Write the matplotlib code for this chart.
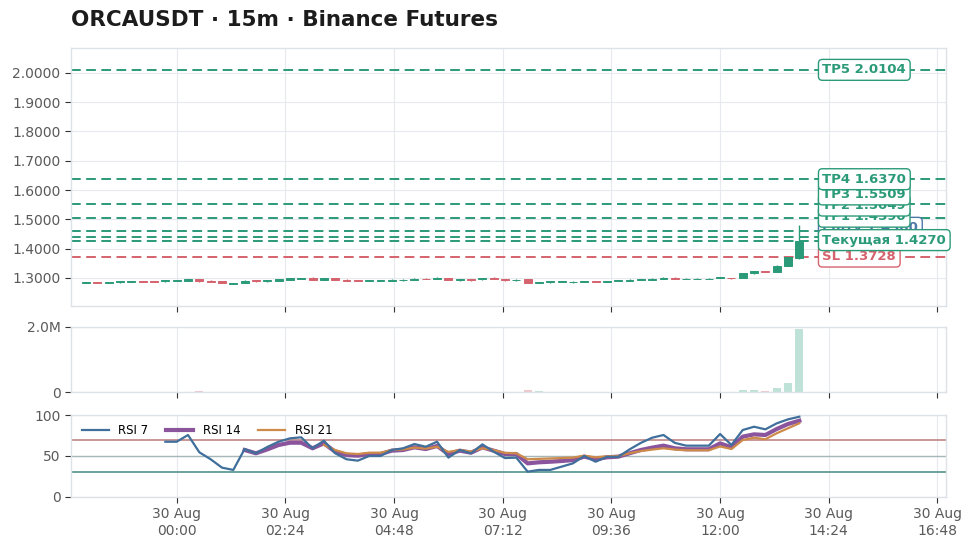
import matplotlib
matplotlib.use('Agg')
import matplotlib.pyplot as plt
import matplotlib.dates as mdates
import matplotlib.transforms as mtransforms
from matplotlib.ticker import FuncFormatter
import pandas as pd

# 15m candles, ORCAUSDT, from 29 Aug 22:00
times = pd.date_range('2025-08-29 22:00', periods=64, freq='15min')

opens = [1.283, 1.285, 1.283, 1.285, 1.286, 1.289, 1.289, 1.288, 1.2895, 1.291,
         1.2955, 1.2905, 1.2885, 1.280, 1.284, 1.292, 1.288, 1.291, 1.2945, 1.2957,
         1.301, 1.293, 1.300, 1.294, 1.292, 1.290, 1.290, 1.290, 1.292, 1.2935,
         1.2976, 1.297, 1.300, 1.292, 1.296, 1.295, 1.301, 1.296, 1.292, 1.2955,
         1.283, 1.285, 1.286, 1.2854, 1.287, 1.290, 1.287, 1.290, 1.290, 1.293,
         1.2945, 1.297, 1.301, 1.2956, 1.2956, 1.2956, 1.299, 1.300, 1.300, 1.315,
         1.323, 1.320, 1.340, 1.367]
closes = [1.285, 1.283, 1.285, 1.289, 1.289, 1.286, 1.286, 1.292, 1.2925, 1.295,
          1.2885, 1.2875, 1.2835, 1.282, 1.291, 1.288, 1.292, 1.295, 1.2985, 1.2997,
          1.294, 1.300, 1.293, 1.290, 1.290, 1.292, 1.292, 1.294, 1.294, 1.2975,
          1.2956, 1.301, 1.293, 1.296, 1.292, 1.300, 1.297, 1.292, 1.294, 1.282,
          1.285, 1.288, 1.289, 1.2874, 1.290, 1.287, 1.290, 1.292, 1.294, 1.295,
          1.2965, 1.301, 1.297, 1.2976, 1.2976, 1.2976, 1.303, 1.298, 1.316, 1.323,
          1.320, 1.340, 1.370, 1.427]
highs = [1.286, 1.286, 1.286, 1.290, 1.290, 1.290, 1.290, 1.293, 1.294, 1.296,
         1.297, 1.292, 1.290, 1.283, 1.292, 1.293, 1.293, 1.296, 1.300, 1.301,
         1.302, 1.301, 1.301, 1.295, 1.293, 1.293, 1.293, 1.295, 1.295, 1.299,
         1.299, 1.302, 1.301, 1.297, 1.297, 1.301, 1.302, 1.297, 1.295, 1.297,
         1.286, 1.289, 1.290, 1.289, 1.291, 1.291, 1.291, 1.293, 1.295, 1.296,
         1.298, 1.302, 1.302, 1.299, 1.299, 1.299, 1.304, 1.301, 1.317, 1.325,
         1.324, 1.345, 1.372, 1.481]
lows = [1.282, 1.282, 1.282, 1.284, 1.285, 1.285, 1.285, 1.287, 1.288, 1.290,
        1.287, 1.286, 1.282, 1.279, 1.283, 1.287, 1.287, 1.290, 1.293, 1.295,
        1.293, 1.292, 1.292, 1.289, 1.289, 1.289, 1.289, 1.289, 1.291, 1.292,
        1.295, 1.296, 1.292, 1.291, 1.291, 1.294, 1.296, 1.291, 1.291, 1.281,
        1.282, 1.284, 1.285, 1.284, 1.286, 1.286, 1.286, 1.289, 1.289, 1.292,
        1.293, 1.296, 1.296, 1.295, 1.295, 1.295, 1.298, 1.297, 1.299, 1.314,
        1.319, 1.319, 1.339, 1.366]
volumes = [8e3, 6e3, 5e3, 9e3, 7e3, 6e3, 5e3, 8e3, 7e3, 12e3,
           25e3, 10e3, 9e3, 8e3, 12e3, 7e3, 6e3, 8e3, 9e3, 7e3,
           10e3, 20e3, 15e3, 8e3, 5e3, 4e3, 5e3, 7e3, 5e3, 8e3,
           5e3, 9e3, 12e3, 7e3, 8e3, 9e3, 8e3, 10e3, 6e3, 71e3,
           30e3, 9e3, 7e3, 5e3, 6e3, 7e3, 5e3, 6e3, 8e3, 6e3,
           5e3, 9e3, 8e3, 5e3, 4e3, 5e3, 20e3, 12e3, 70e3, 70e3,
           40e3, 132e3, 274e3, 1.93e6]

# RSI values (start after their warm-up period)
rsi7 = [67.4, 67.4, 75.6, 54.5, 46, 35.8, 33, 58.5, 53.3, 61,
        67.4, 71.5, 72.8, 59.4, 68.7, 53.3, 46, 44.3, 50, 50,
        57.3, 59.4, 64.6, 61.3, 67.4, 48, 57.3, 53.3, 64.2, 55.2,
        47.5, 48, 30.9, 33, 33, 37, 41, 50, 43, 49,
        49, 58, 66, 72.3, 75.6, 66, 62.6, 62.6, 62.6, 76.8,
        63.4, 81.7, 85.7, 82.5, 89.8, 94.7, 97.9]
rsi14 = [57.3, 53.3, 58, 63.4, 66.2, 66.2, 59.4, 65.4, 55.2, 51.2,
         50.4, 52.4, 52.4, 56.5, 57.3, 60.6, 58.5, 62.2, 52.4, 56.5,
         54, 60.5, 56.5, 52.4, 52.4, 41, 42.3, 43, 43.9, 45,
         49.2, 46, 48.4, 49.2, 53.3, 57.3, 60.2, 62.6, 59.4, 58.2,
         58.2, 58.2, 65.4, 60.6, 73.6, 76.4, 75.6, 82.9, 89, 93]
rsi21 = [63.4, 57.3, 53.3, 52.4, 54, 54, 57.3, 58, 60.2, 59,
         61.3, 55, 57.3, 55.5, 59.4, 57.3, 53.8, 53.3, 46, 46.5,
         47, 47.5, 48, 50.4, 48.4, 49.6, 50, 53.3, 56, 57.8,
         59.4, 57.8, 57, 57, 57, 61.6, 58.5, 69.5, 72.3, 70.4,
         77.7, 83.8, 89.9]

# trade levels
level_names = ['SL', 'Текущая', 'Entry', 'TP1', 'TP2', 'TP3', 'TP4', 'TP5']
level_values = [1.3728, 1.4270, 1.4380, 1.4590, 1.5049, 1.5509, 1.6370, 2.0104]

GREEN = '#2b9a78'
RED = '#d5636e'
BLUE = '#4d78a8'
GRID = '#e6eaee'
SPINE = '#dce2e7'

fig = plt.figure(figsize=(9.73, 5.48), dpi=100)
ax = fig.add_axes([0.073, 0.4416, 0.899, 0.4708])
axv = fig.add_axes([0.073, 0.2841, 0.899, 0.1197], sharex=ax)
axr = fig.add_axes([0.073, 0.0931, 0.899, 0.1496], sharex=ax)

for a in (ax, axv, axr):
    a.set_facecolor('white')
    a.grid(True, color=GRID, lw=0.8)
    a.set_axisbelow(True)
    for s in a.spines.values():
        s.set_color(SPINE)
        s.set_linewidth(1.0)
    a.tick_params(colors='#333333', labelcolor='#5a5a5a', labelsize=10, length=4, width=0.8)

# candles
w = pd.Timedelta(minutes=15) * 0.7
colors = [GREEN if c >= o else RED for o, c in zip(opens, closes)]
ax.vlines(times, lows, highs, colors=colors, lw=1.0, zorder=2)
ax.bar(times, [c - o for o, c in zip(opens, closes)], bottom=opens, width=w,
       color=colors, edgecolor=colors, lw=0.7, zorder=3)

# level lines
level_colors = [RED, GREEN, GREEN, GREEN, GREEN, GREEN, GREEN, GREEN]
for v, col in zip(level_values, level_colors):
    ax.axhline(v, color=col, ls=(0, (5, 2.8)), lw=1.4, zorder=1.5)

# label positions: spread apart around the current price
cur = level_values[1]
gap = 0.038
label_y = {}
prev = cur + 0.006
for n, v in zip(level_names[2:], level_values[2:]):
    prev = max(v, prev + gap)
    label_y[n] = prev
label_y['Текущая'] = cur + 0.002
label_y['SL'] = min(level_values[0], cur - gap)

text_colors = {'SL': RED, 'Entry': BLUE, 'Текущая': GREEN}
trans = mtransforms.blended_transform_factory(ax.transAxes, ax.transData)
for i, (n, v) in enumerate(zip(level_names, level_values)):
    col = text_colors.get(n, GREEN)
    z = 20 if n == 'Текущая' else 5 + i
    ax.text(0.859, label_y[n], f'{n} {v:.4f}', transform=trans, ha='left', va='center',
            fontsize=9.5, fontweight='bold', color=col, zorder=z,
            bbox=dict(boxstyle='round,pad=0.3', fc='white', ec=col, lw=1.0))

ax.set_ylim(1.204, 2.085)
ax.set_yticks([1.3, 1.4, 1.5, 1.6, 1.7, 1.8, 1.9, 2.0])
ax.yaxis.set_major_formatter(FuncFormatter(lambda v, p: f'{v:.4f}'))

# volume
vol_colors = ['#bfe2d8' if c >= o else '#efc6ca' for o, c in zip(opens, closes)]
axv.bar(times, volumes, width=w, color=vol_colors, zorder=2)
axv.set_ylim(0, 2.0e6)
axv.set_yticks([0, 2.0e6])
axv.yaxis.set_major_formatter(FuncFormatter(lambda v, p: '0' if v == 0 else f'{v/1e6:.1f}M'))

# RSI
axr.axhline(70, color='#c48f8f', lw=1.3, zorder=1.5)
axr.axhline(50, color='#a7b6b8', lw=1.0, zorder=1.5)
axr.axhline(30, color='#5e9c94', lw=1.3, zorder=1.5)
axr.plot(times[7:], rsi7, color='#3f6f9a', lw=1.6, label='RSI 7', zorder=4)
axr.plot(times[14:], rsi14, color='#8a559c', lw=3.0, label='RSI 14', zorder=3)
axr.plot(times[21:], rsi21, color='#cd8a48', lw=1.6, label='RSI 21', zorder=3.5)
axr.set_ylim(0, 100)
axr.set_yticks([0, 50, 100])
axr.legend(loc='upper left', ncol=3, frameon=False, fontsize=8.5, columnspacing=1.5,
           handlelength=2.3, bbox_to_anchor=(0.0, 1.02))

ticks = pd.date_range('2025-08-30 00:00', periods=8, freq='144min')
axr.set_xticks(ticks)
axr.xaxis.set_major_formatter(mdates.DateFormatter('%d %b\n%H:%M'))
axr.set_xlim(pd.Timestamp('2025-08-29 21:40'), pd.Timestamp('2025-08-30 16:59'))
ax.tick_params(labelbottom=False)
axv.tick_params(labelbottom=False)

fig.text(0.073, 0.963, 'ORCAUSDT · 15m · Binance Futures', fontsize=15.5,
         fontweight='bold', color='#1c1c1c', va='center', ha='left')

fig.savefig('out.png', dpi=100)
